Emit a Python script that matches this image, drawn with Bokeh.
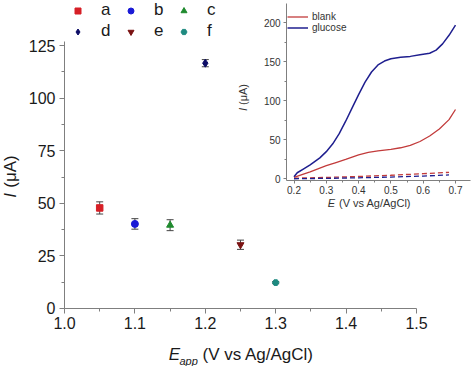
from math import pi
from bokeh.plotting import figure
from bokeh.models import (Range1d, FixedTicker, Whisker, TeeHead, ColumnDataSource,
                          Legend, LegendItem, Label, LinearAxis, NumeralTickFormatter)
from bokeh.embed import file_html
from bokeh.resources import INLINE

# ---------------- data: main panel ----------------
point_labels = ["a", "b", "c", "d", "e", "f"]
e_app = [1.05, 1.10, 1.15, 1.20, 1.25, 1.30]
current = [47.8, 40.2, 39.6, 116.6, 30.3, 12.3]
current_err = [2.9, 2.5, 2.6, 1.7, 2.2, 0.5]
point_colors = ["#d61f26", "#1a1ad6", "#1f8a2e", "#0d0d66", "#7a1212", "#1e8a80"]
point_markers = ["square", "circle", "triangle", "diamond", "inverted_triangle", "hex"]
point_sizes = [6.5, 7, 7, 8, 7, 6.5]
x_ticks = [1.0, 1.1, 1.2, 1.3, 1.4, 1.5]
y_ticks = [0, 25, 50, 75, 100, 125]

# ---------------- data: inset ----------------
e_glucose = [0.20, 0.21, 0.23, 0.25, 0.28, 0.30, 0.32, 0.34, 0.36, 0.38, 0.40, 0.42,
             0.44, 0.46, 0.48, 0.50, 0.53, 0.56, 0.59, 0.62, 0.64, 0.66, 0.68, 0.70]
i_glucose = [3, 8, 13, 18, 27, 35, 45, 58, 74, 91, 108, 124,
             137, 146, 151, 154, 156, 157, 159, 161, 165, 173, 184, 197]
e_blank = [0.20, 0.22, 0.25, 0.28, 0.30, 0.33, 0.36, 0.40, 0.43, 0.46, 0.50, 0.53,
           0.56, 0.59, 0.62, 0.65, 0.68, 0.70]
i_blank = [2, 5, 9, 14, 17, 21, 25, 31, 34, 36, 38, 40, 43, 48, 55, 64, 76, 89]
e_dash = [0.20, 0.30, 0.40, 0.50, 0.60, 0.68]
i_blank_dash = [1.0, 2.0, 3.2, 4.8, 6.8, 8.5]
i_glucose_dash = [0.3, 0.8, 1.5, 2.5, 3.8, 5.2]
inset_x_ticks = [0.2, 0.3, 0.4, 0.5, 0.6, 0.7]
inset_y_ticks = [0, 50, 100, 150, 200]

FONT = "Liberation Sans"
AXC = "#7f7f7f"
TXT = "#1a1a1a"
TXT2 = "#333333"


def mids(t):
    return [(a + b) / 2 for a, b in zip(t[:-1], t[1:])]


def style_axis(ax, font_size, tick_out, minor_out, color):
    ax.axis_line_color = AXC
    ax.major_tick_line_color = AXC
    ax.minor_tick_line_color = AXC
    ax.major_tick_out = tick_out
    ax.major_tick_in = 0
    ax.minor_tick_out = minor_out
    ax.minor_tick_in = 0
    ax.major_label_text_font = FONT
    ax.major_label_text_font_size = font_size
    ax.major_label_text_color = color


# ---------------- one figure; frame = whole canvas ----------------
W, H = 474, 366
p = figure(width=W, height=H,
           x_range=Range1d(0.90909, 1.58239), y_range=Range1d(-27.567, 146.39),
           output_backend="svg", toolbar_location=None,
           min_border_left=0, min_border_right=0, min_border_top=0, min_border_bottom=0,
           x_axis_location=None, y_axis_location=None)
p.xgrid.visible = False
p.ygrid.visible = False
p.outline_line_color = None

# main axes, fixed inside the frame
xax = LinearAxis(fixed_location=0, bounds=(1.0, 1.5),
                 ticker=FixedTicker(ticks=x_ticks, minor_ticks=mids(x_ticks)),
                 formatter=NumeralTickFormatter(format="0.0"))
yax = LinearAxis(fixed_location=1.0, bounds=(0, 127),
                 ticker=FixedTicker(ticks=y_ticks, minor_ticks=mids(y_ticks)))
for ax in (xax, yax):
    style_axis(ax, "16px", 5, 3, TXT)
    ax.major_label_standoff = 4
p.add_layout(xax, "below")
p.add_layout(yax, "left")

# error bars and points
err_src = ColumnDataSource(dict(
    x=e_app,
    upper=[c + e for c, e in zip(current, current_err)],
    lower=[c - e for c, e in zip(current, current_err)]))
p.add_layout(Whisker(base="x", upper="upper", lower="lower", source=err_src,
                     line_color="#444444", line_width=1,
                     upper_head=TeeHead(size=7, line_color="#444444", line_width=1),
                     lower_head=TeeHead(size=7, line_color="#444444", line_width=1)))

rends = []
for i in range(len(e_app)):
    r = p.scatter(x=[e_app[i]], y=[current[i]], marker=point_markers[i], size=point_sizes[i],
                  fill_color=point_colors[i], line_color=point_colors[i])
    rends.append(r)


def make_legend(idx, loc):
    return Legend(items=[LegendItem(label=point_labels[i], renderers=[rends[i]]) for i in idx],
                  orientation="horizontal", location=loc,
                  glyph_width=15, glyph_height=15, label_height=15, label_width=10,
                  label_standoff=16, spacing=12, padding=0, margin=0,
                  border_line_alpha=0, background_fill_alpha=0,
                  label_text_font=FONT, label_text_font_size="17px", label_text_color=TXT)


p.add_layout(make_legend([0, 1, 2], (70, 346)))
p.add_layout(make_legend([3, 4, 5], (70, 325)))


def lab(x, y, text, size, italic=False, align="left", angle=0, color=TXT):
    p.add_layout(Label(x=x, y=y, x_units="screen", y_units="screen", text=text, angle=angle,
                       text_font=FONT, text_font_size=size,
                       text_font_style="italic" if italic else "normal",
                       text_color=color, text_align=align, text_baseline="middle"))


# main axis titles
lab(174, 12, "E", "17px", italic=True, align="center")
lab(179, 6, "app", "11px", italic=True)
lab(202, 12, "(V vs Ag/AgCl)", "17px")
lab(10, 171, "I", "17px", italic=True, align="center", angle=pi / 2)
lab(10, 195, "(μA)", "17px", align="center", angle=pi / 2)

# ---------------- inset, on its own ranges ----------------
p.extra_x_ranges = {"ix": Range1d(-0.70867, 0.75882)}
p.extra_y_ranges = {"iy": Range1d(-240.08, 228.55)}

ixax = LinearAxis(x_range_name="ix", y_range_name="iy", fixed_location=-1.5,
                  bounds=(0.177, 0.745),
                  ticker=FixedTicker(ticks=inset_x_ticks, minor_ticks=mids(inset_x_ticks)),
                  formatter=NumeralTickFormatter(format="0.0"))
iyax = LinearAxis(x_range_name="ix", y_range_name="iy", fixed_location=0.177,
                  bounds=(-1.5, 225),
                  ticker=FixedTicker(ticks=inset_y_ticks, minor_ticks=mids(inset_y_ticks)))
for ax in (ixax, iyax):
    style_axis(ax, "10px", 3, 2, TXT2)
    ax.major_label_standoff = 3
p.add_layout(ixax, "below")
p.add_layout(iyax, "left")

p.line(e_dash, i_blank_dash, x_range_name="ix", y_range_name="iy",
       line_color="#c23b3b", line_width=1.3, line_dash="5 3")
p.line(e_dash, i_glucose_dash, x_range_name="ix", y_range_name="iy",
       line_color="#1f1f8f", line_width=1.3, line_dash="5 3")
rb = p.line(e_blank, i_blank, x_range_name="ix", y_range_name="iy",
            line_color="#c23b3b", line_width=1.3)
rg = p.line(e_glucose, i_glucose, x_range_name="ix", y_range_name="iy",
            line_color="#1f1f8f", line_width=1.5)

p.add_layout(Legend(items=[LegendItem(label="blank", renderers=[rb]),
                           LegendItem(label="glucose", renderers=[rg])],
                    location=(287, 333), orientation="vertical",
                    glyph_width=21, glyph_height=9, label_height=9, label_standoff=4,
                    spacing=0, padding=0, margin=0,
                    border_line_alpha=0, background_fill_alpha=0,
                    label_text_font=FONT, label_text_font_size="10px", label_text_color=TXT2))

lab(331, 164, "E", "11px", italic=True, align="center", color=TXT2)
lab(338.5, 164, "(V vs Ag/AgCl)", "11px", color=TXT2)
lab(242, 257, "I", "11px", italic=True, align="center", angle=pi / 2, color=TXT2)
lab(242, 272, "(μA)", "11px", align="center", angle=pi / 2, color=TXT2)

open("out.html", "w").write(file_html(p, INLINE))
